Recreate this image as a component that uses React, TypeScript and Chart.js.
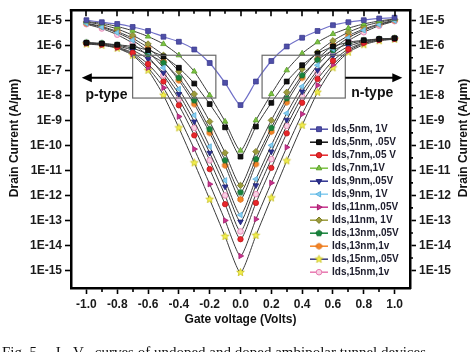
import React, { useEffect, useRef } from 'react';
import { Chart, registerables } from 'chart.js';
import { drawPoint } from 'chart.js/helpers';

Chart.register(...registerables);

const FONT = '"Liberation Sans", Arial, sans-serif';

// ---- data (log10 of drain current, A/um) ----
const gateVoltage = [-1.0, -0.9, -0.8, -0.7, -0.6, -0.5, -0.4, -0.3, -0.2, -0.1, 0.0, 0.1, 0.2, 0.3, 0.4, 0.5, 0.6, 0.7, 0.8, 0.9, 1.0];
const xTickValues = [-1.0, -0.8, -0.6, -0.4, -0.2, 0.0, 0.2, 0.4, 0.6, 0.8, 1.0];
const xMinorTickValues = [-0.9, -0.7, -0.5, -0.3, -0.1, 0.1, 0.3, 0.5, 0.7, 0.9];
const yTickExponents = [-5, -6, -7, -8, -9, -10, -11, -12, -13, -14, -15];

const seriesLabels = [
  'Ids,5nm, 1V', 'Ids,5nm, .05V', 'Ids,7nm,.05 V', 'Ids,7nm,1V',
  'Ids,9nm,.05V', 'Ids,9nm, 1V', 'Ids,11nm,.05V', 'Ids,11nm, 1V',
  'Ids,13nm,.05V', 'Ids,13nm,1v', 'Ids,15nm,.05V', 'Ids,15nm,1v',
];

const log10Ids_5nm_1V = [-5.0, -5.08, -5.15, -5.27, -5.43, -5.66, -5.86, -6.17, -6.71, -7.5, -8.39, -7.45, -6.63, -6.05, -5.7, -5.43, -5.2, -5.08, -5.0, -4.93, -4.9];
const log10Ids_5nm_005V = [-5.9, -5.93, -5.98, -6.05, -6.2, -6.45, -6.9, -7.53, -8.35, -9.28, -10.45, -9.25, -8.3, -7.45, -6.8, -6.33, -6.05, -5.88, -5.8, -5.75, -5.72];
const log10Ids_7nm_005V = [-5.92, -5.97, -6.07, -6.3, -6.75, -7.45, -8.4, -9.6, -10.95, -12.35, -13.75, -12.3, -10.9, -9.52, -8.3, -7.35, -6.62, -6.15, -5.9, -5.78, -5.74];
const log10Ids_7nm_1V = [-5.05, -5.12, -5.25, -5.42, -5.65, -5.95, -6.4, -7.05, -8.0, -9.05, -10.21, -9.0, -7.95, -7.0, -6.33, -5.88, -5.55, -5.32, -5.15, -5.03, -4.95];
const log10Ids_9nm_005V = [-5.9, -5.95, -6.03, -6.2, -6.55, -7.1, -7.95, -9.05, -10.3, -11.65, -13.05, -11.6, -10.25, -8.98, -7.85, -7.0, -6.42, -6.05, -5.85, -5.76, -5.72];
const log10Ids_9nm_1V = [-5.13, -5.28, -5.5, -5.8, -6.25, -6.9, -7.75, -8.8, -10.05, -11.4, -12.78, -11.35, -10.0, -8.72, -7.65, -6.8, -6.15, -5.7, -5.4, -5.18, -5.02];
const log10Ids_11nm_005V = [-5.93, -5.98, -6.1, -6.35, -6.9, -7.7, -8.85, -10.15, -11.55, -13.0, -14.42, -12.95, -11.5, -10.08, -8.75, -7.6, -6.78, -6.22, -5.93, -5.8, -5.75];
const log10Ids_11nm_1V = [-5.07, -5.18, -5.35, -5.6, -5.95, -6.4, -7.05, -7.95, -9.05, -10.3, -11.6, -10.25, -9.0, -7.88, -6.95, -6.28, -5.82, -5.48, -5.24, -5.08, -4.97];
const log10Ids_13nm_005V = [-5.9, -5.93, -6.0, -6.12, -6.35, -6.7, -7.3, -8.2, -9.35, -10.6, -11.88, -10.55, -9.3, -8.12, -7.2, -6.58, -6.2, -5.95, -5.82, -5.76, -5.73];
const log10Ids_13nm_1V = [-5.12, -5.25, -5.45, -5.72, -6.1, -6.65, -7.4, -8.35, -9.5, -10.8, -12.16, -10.75, -9.45, -8.28, -7.3, -6.55, -6.0, -5.62, -5.35, -5.15, -5.0];
const log10Ids_15nm_005V = [-5.95, -6.0, -6.12, -6.4, -7.0, -8.0, -9.3, -10.7, -12.16, -13.64, -15.08, -13.6, -12.1, -10.62, -9.2, -7.88, -6.9, -6.28, -5.98, -5.82, -5.76];
const log10Ids_15nm_1V = [-5.16, -5.33, -5.58, -5.92, -6.45, -7.2, -8.15, -9.3, -10.6, -12.0, -13.44, -11.95, -10.55, -9.22, -8.05, -7.1, -6.35, -5.82, -5.48, -5.22, -5.04];

const seriesValues = [
  log10Ids_5nm_1V, log10Ids_5nm_005V, log10Ids_7nm_005V, log10Ids_7nm_1V,
  log10Ids_9nm_005V, log10Ids_9nm_1V, log10Ids_11nm_005V, log10Ids_11nm_1V,
  log10Ids_13nm_005V, log10Ids_13nm_1V, log10Ids_15nm_005V, log10Ids_15nm_1V,
];

// annotation boxes / arrows in data units (Vg, log10 I)
const boxes = [
  { x0: -0.70, x1: -0.16, y0: -6.4, y1: -8.11 },
  { x0: 0.14, x1: 0.68, y0: -6.4, y1: -8.11 },
];
const arrows = [
  { from: -0.70, to: -1.03, y: -7.3 },
  { from: 0.68, to: 1.05, y: -7.3 },
];
const typeLabels = [
  { text: 'p-type', x: -0.87, y: -8.0 },
  { text: 'n-type', x: 0.855, y: -7.9 },
];

// ---- marker images ----
function polyImage(n: number, fill: string, stroke: string, r: number, inner?: number) {
  const size = Math.ceil(r * 2 + 3);
  const c = document.createElement('canvas');
  c.width = size; c.height = size;
  const g = c.getContext('2d')!;
  const cx = size / 2, cy = size / 2;
  g.beginPath();
  const pts = inner ? n * 2 : n;
  for (let i = 0; i < pts; i++) {
    const rr = inner ? (i % 2 === 0 ? r : inner) : r;
    const a = -Math.PI / 2 + (i * 2 * Math.PI) / pts;
    const px = cx + rr * Math.cos(a), py = cy + rr * Math.sin(a);
    if (i === 0) g.moveTo(px, py); else g.lineTo(px, py);
  }
  g.closePath();
  g.fillStyle = fill; g.fill();
  g.lineWidth = 0.8; g.strokeStyle = stroke; g.stroke();
  return c;
}

type Style = { pointStyle: any; rotation: number; radius: number; fill: string; border: string; line: string; legendLine: string };

function makeStyles(): Style[] {
  return [
    { pointStyle: 'rect', rotation: 0, radius: 3.4, fill: '#4f4fa8', border: '#3c3c90', line: '#7070c8', legendLine: '#4f4fa8' },
    { pointStyle: 'rect', rotation: 0, radius: 3.4, fill: '#111111', border: '#000000', line: '#3a3a3a', legendLine: '#111111' },
    { pointStyle: 'circle', rotation: 0, radius: 2.7, fill: '#e8262b', border: '#c01818', line: '#3a3a3a', legendLine: '#e8262b' },
    { pointStyle: 'triangle', rotation: 0, radius: 3.2, fill: '#7cc243', border: '#5aa02a', line: '#3a3a3a', legendLine: '#7cc243' },
    { pointStyle: 'triangle', rotation: 180, radius: 3.2, fill: '#2d3190', border: '#20237a', line: '#3a3a3a', legendLine: '#2d3190' },
    { pointStyle: 'triangle', rotation: 270, radius: 3.2, fill: '#86cdf0', border: '#5db4e0', line: '#3a3a3a', legendLine: '#86cdf0' },
    { pointStyle: 'triangle', rotation: 90, radius: 3.2, fill: '#c8328c', border: '#a52070', line: '#3a3a3a', legendLine: '#c8328c' },
    { pointStyle: 'rectRot', rotation: 0, radius: 3.2, fill: '#9b9b3c', border: '#7c7c25', line: '#3a3a3a', legendLine: '#9b9b3c' },
    { pointStyle: polyImage(5, '#17843c', '#0e6a2c', 3.2), rotation: 0, radius: 3.2, fill: '#17843c', border: '#0e6a2c', line: '#3a3a3a', legendLine: '#17843c' },
    { pointStyle: polyImage(6, '#f58426', '#d86a10', 3.0), rotation: 0, radius: 3.0, fill: '#f58426', border: '#d86a10', line: '#3a3a3a', legendLine: '#f58426' },
    { pointStyle: polyImage(5, '#f2ee4c', '#c8c020', 4.0, 1.8), rotation: 0, radius: 4.0, fill: '#f2ee4c', border: '#c8c020', line: '#3a3a3a', legendLine: '#3a3a7a' },
    { pointStyle: 'circle', rotation: 0, radius: 2.8, fill: '#f8d3e4', border: '#e779b0', line: '#3a3a3a', legendLine: '#e779b0' },
  ];
}

function makeOverlay(styles: Style[]) {
  return {
    id: 'overlay',
    afterDraw(chart: any) {
      const { ctx, chartArea: a, scales } = chart;
      const xs = scales.x, ys = scales.y;
      const px = (v: number) => xs.getPixelForValue(v);
      const py = (e: number) => ys.getPixelForValue(Math.pow(10, e));
      ctx.save();
      // top frame line
      ctx.strokeStyle = '#000';
      ctx.lineWidth = 2.5;
      ctx.beginPath();
      ctx.moveTo(a.left - 1.25, a.top);
      ctx.lineTo(a.right + 1.25, a.top);
      ctx.stroke();
      // top ticks (inward) and bottom minor ticks
      ctx.lineWidth = 1.6;
      ctx.beginPath();
      for (const v of xTickValues) {
        const X = Math.round(px(v));
        ctx.moveTo(X, a.top); ctx.lineTo(X, a.top + 6);
      }
      for (const v of xMinorTickValues) {
        const X = Math.round(px(v));
        ctx.moveTo(X, a.top); ctx.lineTo(X, a.top + 3.5);
        ctx.moveTo(X, a.bottom); ctx.lineTo(X, a.bottom + 4);
      }
      // right axis minor ticks
      for (let e = -15; e < -4; e++) {
        const Y = py(e + 0.5);
        if (Y > a.top && Y < a.bottom) { ctx.moveTo(a.right, Y); ctx.lineTo(a.right + 3, Y); }
      }
      ctx.stroke();

      // boxes
      ctx.strokeStyle = '#6a6a6a';
      ctx.lineWidth = 1.2;
      for (const b of boxes) {
        const x0 = px(b.x0), x1 = px(b.x1), y0 = py(b.y0), y1 = py(b.y1);
        ctx.strokeRect(x0, y0, x1 - x0, y1 - y0);
      }
      // arrows
      ctx.strokeStyle = '#000';
      ctx.fillStyle = '#000';
      ctx.lineWidth = 2;
      for (const ar of arrows) {
        const x0 = px(ar.from), x1 = px(ar.to), Y = py(ar.y);
        const dir = Math.sign(x1 - x0);
        ctx.beginPath();
        ctx.moveTo(x0, Y); ctx.lineTo(x1 - dir * 8, Y);
        ctx.stroke();
        ctx.beginPath();
        ctx.moveTo(x1, Y); ctx.lineTo(x1 - dir * 10, Y - 4.5); ctx.lineTo(x1 - dir * 10, Y + 4.5);
        ctx.closePath(); ctx.fill();
      }
      // p-type / n-type
      ctx.font = `bold 14px ${FONT}`;
      ctx.textAlign = 'center';
      ctx.textBaseline = 'middle';
      ctx.fillStyle = '#111';
      for (const t of typeLabels) ctx.fillText(t.text, px(t.x), py(t.y));

      // legend
      ctx.font = `bold 10px ${FONT}`;
      ctx.textAlign = 'left';
      ctx.textBaseline = 'middle';
      seriesLabels.forEach((lab, i) => {
        const s = styles[i];
        const Y = a.top + 119 + i * 13;
        const L0 = a.right - 100, L1 = a.right - 82;
        ctx.strokeStyle = s.legendLine;
        ctx.lineWidth = 1.5;
        ctx.beginPath(); ctx.moveTo(L0, Y); ctx.lineTo(L1, Y); ctx.stroke();
        ctx.fillStyle = s.fill;
        ctx.strokeStyle = s.border;
        ctx.lineWidth = 1;
        drawPoint(ctx, { pointStyle: s.pointStyle, rotation: s.rotation, radius: s.radius, borderWidth: 1 } as any, (L0 + L1) / 2, Y);
        ctx.fillStyle = '#1c1c2c';
        ctx.fillText(lab, a.right - 78, Y + 0.5);
      });

      // axis titles
      ctx.fillStyle = '#111';
      ctx.font = `bold 12px ${FONT}`;
      ctx.textAlign = 'center';
      ctx.textBaseline = 'middle';
      ctx.fillText('Gate voltage (Volts)', (a.left + a.right) / 2, 320);
      const yTitle = 'Drain Current (A/\u00b5m)';
      for (const X of [15, 464]) {
        ctx.save();
        ctx.translate(X, 138);
        ctx.rotate(-Math.PI / 2);
        ctx.fillText(yTitle, 0, 0);
        ctx.restore();
      }
      ctx.restore();
    },
  };
}

export default function App() {
  const ref = useRef<HTMLCanvasElement | null>(null);
  useEffect(() => {
    if (!ref.current) return;
    const styles = makeStyles();
    const datasets = seriesValues.map((vals, i) => {
      const s = styles[i];
      return {
        label: seriesLabels[i],
        data: gateVoltage.map((v, k) => ({ x: v, y: Math.pow(10, vals[k]) })),
        borderColor: s.line,
        borderWidth: i === 0 ? 1.2 : 1,
        backgroundColor: s.fill,
        pointStyle: s.pointStyle,
        pointRotation: s.rotation,
        pointRadius: s.radius,
        pointBackgroundColor: s.fill,
        pointBorderColor: s.border,
        pointBorderWidth: 0.8,
        tension: 0.2,
        fill: false,
      };
    });
    const yTicks = (scale: any) => {
      scale.ticks = yTickExponents.map((e) => ({ value: Math.pow(10, e) }));
    };
    const yLabel = (v: any) => '1E' + Math.round(Math.log10(Number(v)));
    const tickFont = { family: FONT, size: 12, weight: 'bold' as const };
    const yScaleBase = (position: 'left' | 'right', width: number) => ({
      type: 'logarithmic' as const,
      position,
      min: Math.pow(10, -15.7),
      max: Math.pow(10, -4.6),
      afterBuildTicks: yTicks,
      afterFit: (s: any) => { s.width = width; },
      ticks: { callback: yLabel, font: tickFont, color: '#1a1a1a', padding: 3, autoSkip: false },
      grid: { drawOnChartArea: false, drawTicks: true, tickLength: 6, tickWidth: 1.6, tickColor: '#000' },
      border: { display: true, width: 2.5, color: '#000' },
    });
    const chart = new Chart(ref.current, {
      type: 'line',
      data: { datasets: datasets as any },
      options: {
        responsive: false,
        devicePixelRatio: 1,
        animation: false,
        layout: { padding: { top: 3, left: 0, right: 0, bottom: 0 } },
        plugins: { legend: { display: false }, tooltip: { enabled: false } },
        scales: {
          x: {
            type: 'linear',
            position: 'bottom',
            min: -1.1,
            max: 1.1,
            afterBuildTicks: (s: any) => { s.ticks = xTickValues.map((v) => ({ value: v })); },
            afterFit: (s: any) => { s.height = 64; },
            ticks: { callback: (v: any) => Number(v).toFixed(1), font: tickFont, color: '#1a1a1a', padding: 3, maxRotation: 0, autoSkip: false },
            grid: { drawOnChartArea: false, drawTicks: true, tickLength: 6, tickWidth: 1.6, tickColor: '#000' },
            border: { display: true, width: 2.5, color: '#000' },
          },
          y: yScaleBase('left', 71) as any,
          y2: yScaleBase('right', 64) as any,
        },
      },
      plugins: [makeOverlay(styles)],
    });
    return () => chart.destroy();
  }, []);

  return (
    <div style={{ position: 'fixed', left: 0, top: 0, width: 474, height: 352, background: '#fff', overflow: 'hidden' }}>
      <canvas ref={ref} width={474} height={352} style={{ display: 'block', width: 474, height: 352 }} />
      <div style={{ position: 'absolute', left: 2, top: 344, font: '15px "Liberation Serif", "Times New Roman", serif', whiteSpace: 'nowrap', color: '#111', lineHeight: '16px' }}>
        Fig. 5.&nbsp;&nbsp;&nbsp; I<sub style={{ fontSize: 10 }}>D</sub>-V<sub style={{ fontSize: 10 }}>G</sub> curves of undoped and doped ambipolar tunnel devices
      </div>
    </div>
  );
}
